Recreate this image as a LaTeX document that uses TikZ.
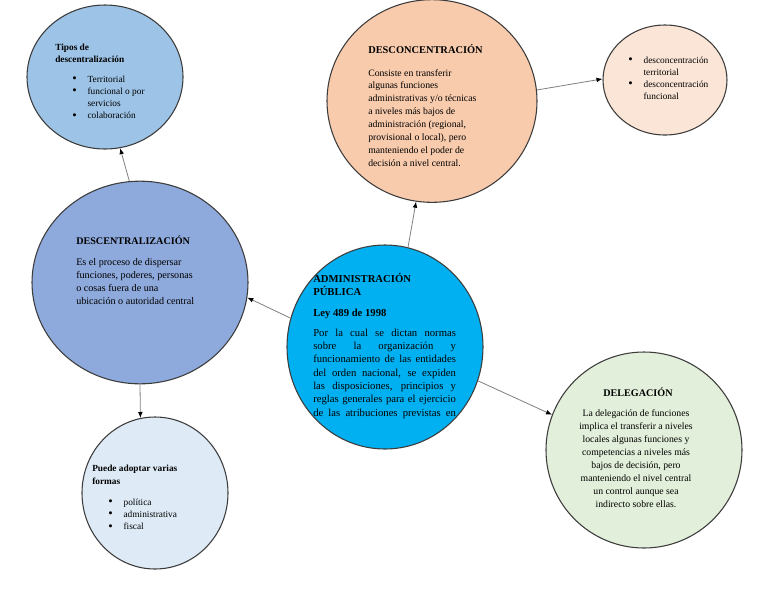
\documentclass[tikz,border=0pt]{standalone}
\usepackage{fontspec}
\setmainfont{Liberation Serif}
\usetikzlibrary{shapes.geometric,arrows.meta}
\definecolor{ctipos}{HTML}{9DC3E6}
\definecolor{cdconc}{HTML}{F8CBAD}
\definecolor{csmall}{HTML}{FBE5D6}
\definecolor{cdesc}{HTML}{8EA9DB}
\definecolor{cadmin}{HTML}{00B0F0}
\definecolor{cdeleg}{HTML}{E2EFDA}
\definecolor{cbottom}{HTML}{DEEBF7}
\definecolor{bord}{HTML}{3C3C3C}
\definecolor{lgray}{HTML}{808080}
\newcommand\bigbul{\raisebox{-0.3pt}{\fontsize{9.5}{9}\selectfont\textbullet}}
\newcommand\bul[1]{\hbox{\makebox[11.5pt][l]{\bigbul}#1}}
\newcommand\cont[1]{\hbox{\hspace{11.5pt}#1}}
\newcommand\jl[1]{\hbox to 107pt{#1}}
\newcommand\cl[1]{\hbox to 130pt{\hfil#1\hfil}}
\tikzset{
  bub/.style={ellipse, draw=bord, line width=0.8pt, inner sep=0pt},
  conn/.style={draw=lgray, line width=0.6pt, -{Latex[length=4.5pt,width=3.5pt,black]}},
  txt/.style={inner sep=0pt, anchor=base west, text=black},
}
\begin{document}
\begin{tikzpicture}[x=0.75pt,y=-0.75pt]
\useasboundingbox (0,0) rectangle (768,594);
\fill[white] (0,0) rectangle (768,594);
% bubbles
\node[bub, fill=ctipos, minimum width=117pt, minimum height=108pt] (tipos) at (105,77) {};
\node[bub, fill=cdconc, minimum width=157.5pt, minimum height=152pt] (dconc) at (432,101) {};
\node[bub, fill=csmall, minimum width=93pt, minimum height=82.5pt] (small) at (665,80) {};
\node[bub, fill=cdesc, minimum width=162pt, minimum height=152pt] (desc) at (140,282.5) {};
\node[bub, fill=cadmin, minimum width=147pt, minimum height=153pt] (admin) at (385,347) {};
\node[bub, fill=cdeleg, minimum width=147pt, minimum height=147pt] (deleg) at (644,450) {};
\node[bub, fill=cbottom, minimum width=109.5pt, minimum height=114pt] (bottom) at (155,493) {};
% connectors
\draw[conn] (desc.96) -- (tipos.-78);
\draw[conn] (admin.77) -- (dconc.-99);
\draw[conn] (admin.163) -- (desc.-8);
\draw[conn] (admin.-20) -- (deleg.159);
\draw[conn] (dconc.6) -- (small.179);
\draw[conn] (desc.-90) -- (bottom.101);
% texts: tipos
\node[txt] (tiposh) at (55,50) {\fontsize{7}{9}\selectfont\bfseries\vtop{\baselineskip=9pt\hbox{Tipos de}\hbox{descentralización}}};
\node[txt] (tiposl) at (72,82) {\fontsize{7}{9}\selectfont\vtop{\baselineskip=9.2pt
  \bul{Territorial}\bul{funcional o por}\cont{servicios}\bul{colaboración}}};
% desconcentracion
\node[txt] (dconch) at (368,53) {\fontsize{7.8}{9}\selectfont\bfseries DESCONCENTRACIÓN};
\node[txt] (dconcb) at (368,76) {\fontsize{7.3}{9}\selectfont\vtop{\baselineskip=9.7pt
  \hbox{Consiste en transferir}\hbox{algunas funciones}\hbox{administrativas y/o técnicas}
  \hbox{a niveles más bajos de}\hbox{administración (regional,}\hbox{provisional o local), pero}
  \hbox{manteniendo el poder de}\hbox{decisión a nivel central.}}};
% small right
\node[txt] (smalll) at (628,63) {\fontsize{7}{9}\selectfont\vtop{\baselineskip=9.2pt
  \bul{desconcentración}\cont{territorial}\bul{desconcentración}\cont{funcional}}};
% descentralizacion
\node[txt] (desch) at (76,244) {\fontsize{7.6}{9}\selectfont\bfseries DESCENTRALIZACIÓN};
\node[txt] (descb) at (76,265) {\fontsize{7.6}{9}\selectfont\vtop{\baselineskip=9.9pt
  \hbox{Es el proceso de dispersar}\hbox{funciones, poderes, personas}
  \hbox{o cosas fuera de una}\hbox{ubicación o autoridad central}}};
% admin
\node[txt] (adminh) at (313,282) {\fontsize{8}{9}\selectfont\bfseries\vtop{\baselineskip=9.75pt\hbox{ADMINISTRACIÓN}\hbox{PÚBLICA}}};
\node[txt] (adminl) at (313,316) {\fontsize{8}{9}\selectfont\bfseries Ley 489 de 1998};
\node[txt] (adminb) at (313,336) {\fontsize{8}{9}\selectfont\vtop{\baselineskip=10pt
  \jl{Por la cual se dictan normas}\jl{sobre la organización y}
  \jl{funcionamiento de las entidades}\jl{del orden nacional, se expiden}
  \jl{las disposiciones, principios y}\jl{reglas generales para el ejercicio}
  \jl{de las atribuciones previstas en}}};
% delegacion
\node[inner sep=0pt, anchor=base, text=black] (delegh) at (638,396) {\fontsize{7.6}{9}\selectfont\bfseries DELEGACIÓN};
\node[inner sep=0pt, anchor=base, text=black] (delegb) at (636,416) {\fontsize{7.3}{9}\selectfont\vtop{\baselineskip=9.8pt
  \cl{La delegación de funciones}\cl{implica el transferir a niveles}
  \cl{locales algunas funciones y}\cl{competencias a niveles más}
  \cl{bajos de decisión, pero}\cl{manteniendo el nivel central}
  \cl{un control aunque sea}\cl{indirecto sobre ellas.}}};
% bottom
\node[txt] (bottomh) at (92,471) {\fontsize{7}{9}\selectfont\bfseries\vtop{\baselineskip=9.75pt\hbox{Puede adoptar varias}\hbox{formas}}};
\node[txt] (bottoml) at (108,505) {\fontsize{7}{9}\selectfont\vtop{\baselineskip=9.3pt
  \bul{política}\bul{administrativa}\bul{fiscal}}};
\end{tikzpicture}
\end{document}
